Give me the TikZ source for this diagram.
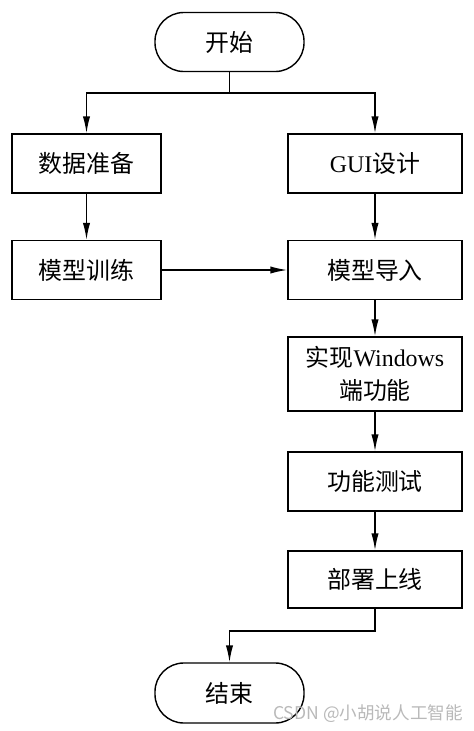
\documentclass[tikz,border=0pt]{standalone}
\usepackage{fontspec}
\setmainfont{Liberation Serif}
\newfontfamily\cjk{Noto Sans CJK SC}
\usetikzlibrary{arrows.meta}
\newcommand{\boxfont}{\fontsize{17}{23}\selectfont}

\begin{document}
\begin{tikzpicture}[x=0.025cm,y=-0.025cm,line width=1pt,
    stepbox/.style={draw,minimum width=3.725cm,minimum height=1.475cm,inner sep=0pt,align=center,font=\boxfont},
    termbox/.style={stepbox,rounded corners=0.72cm},
    flow/.style={-{Latex[length=4.2mm,width=1.8mm]}}]
    \useasboundingbox (0,0) rectangle (474,731);
    % start and end
    \node[termbox] (start) at (229.5,42) {\cjk 开始};
    \node[termbox,minimum height=1.5cm] (stop) at (229.5,693) {\cjk 结束};
    % left column
    \node[stepbox] (prep) at (86.5,163.5) {\cjk 数据准备};
    \node[stepbox] (train) at (86.5,270) {\cjk 模型训练};
    % right column
    \node[stepbox,minimum width=4.35cm] (gui) at (375,163.5) {GUI{\cjk 设计}};
    \node[stepbox,minimum width=4.35cm] (load) at (375,270) {\cjk 模型导入};
    \node[stepbox,minimum width=4.35cm,minimum height=1.85cm] (win) at (375,374) {{\cjk 实现}Windows\\{\cjk 端功能}};
    \node[stepbox,minimum width=4.35cm] (test) at (375,481.5) {\cjk 功能测试};
    \node[stepbox,minimum width=4.35cm,minimum height=1.425cm] (deploy) at (375,579.5) {\cjk 部署上线};
    \coordinate (split) at (229.5,93);
    \coordinate (merge) at (375,631);
    % connectors
    \draw (start) -- (split);
    \draw[flow] (split) -| (prep);
    \draw[flow] (split) -| (gui);
    \draw[flow] (prep) -- (train);
    \draw[flow] (gui) -- (load);
    \draw[flow] (train) -- (load);
    \draw[flow] (load) -- (win);
    \draw[flow] (win) -- (test);
    \draw[flow] (test) -- (deploy);
    \draw[flow] (deploy) -- (merge) -| (stop);
    % watermark
    \node[text=gray!55,font={\cjk\fontsize{12.5}{14}\selectfont}] (mark) at (368,714) {CSDN @小胡说人工智能};
\end{tikzpicture}
\end{document}
